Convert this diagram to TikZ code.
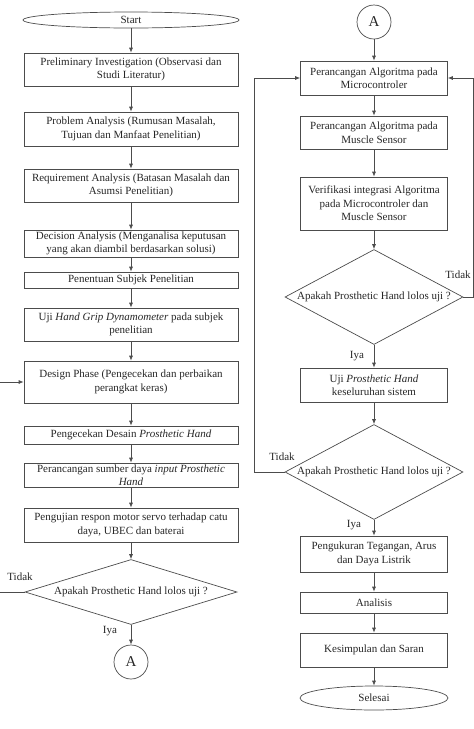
\documentclass[tikz,border=0pt]{standalone}
\usepackage{fontspec}
\setmainfont{Liberation Serif}
\usetikzlibrary{shapes.geometric,arrows.meta}
\begin{document}
\begin{tikzpicture}[x=1pt,y=-1pt,
  every node/.style={font=\fontsize{11}{13.5}\selectfont, text=black!85},
  line/.style={draw=black!70, line width=0.7pt},
  arr/.style={line, -{Latex[length=5pt,width=4pt]}},
  lbox/.style={line, rectangle, minimum width=214pt, align=center, inner sep=0pt},
  rbox/.style={line, rectangle, minimum width=147pt, align=center, inner sep=0pt},
  dec/.style={line, diamond, aspect=2, inner sep=0pt},
  term/.style={line, ellipse, inner sep=0pt},
  conn/.style={line, circle, minimum size=34pt, inner sep=0pt, font=\fontsize{15}{15}\selectfont},
  lab/.style={inner sep=0pt}
]
\useasboundingbox (0,0) rectangle (474,729);
% left column
\node[term, minimum width=216pt, minimum height=16pt] (start) at (131,20) {Start};
\node[lbox, minimum height=33pt] (b1) at (131,69.5) {Preliminary Investigation (Observasi dan\\ Studi Literatur)};
\node[lbox, minimum height=34pt] (b2) at (131,129) {Problem Analysis (Rumusan Masalah,\\ Tujuan dan Manfaat Penelitian)};
\node[lbox, minimum height=33pt] (b3) at (131,185.5) {Requirement Analysis (Batasan Masalah dan\\ Asumsi Penelitian)};
\node[lbox, minimum height=27pt] (b4) at (131,243.5) {Decision Analysis (Menganalisa keputusan\\ yang akan diambil berdasarkan solusi)};
\node[lbox, minimum height=16pt] (b5) at (131,280) {Penentuan Subjek Penelitian};
\node[lbox, minimum height=33pt] (b6) at (131,324.5) {Uji \textit{Hand Grip Dynamometer} pada subjek\\ penelitian};
\node[lbox, minimum height=42pt] (b7) at (131,382) {Design Phase (Pengecekan dan perbaikan\\ perangkat keras)};
\node[lbox, minimum height=18pt] (b8) at (131,435) {Pengecekan Desain \textit{Prosthetic Hand}};
\node[lbox, minimum height=24pt] (b9) at (131,475) {Perancangan sumber daya \textit{input Prosthetic}\\ \textit{Hand}};
\node[lbox, minimum height=34pt] (b10) at (131,525) {Pengujian respon motor servo terhadap catu\\ daya, UBEC dan baterai};
\node[dec, minimum width=212pt, minimum height=65pt] (d1) at (131,592) {};
\node at (131,592) {Apakah Prosthetic Hand lolos uji ?};
\node[conn] (a1) at (131,662) {A};
\coordinate (lc1) at (-1,592);
\coordinate (lc2) at (-1,382);
\node[lab] (t1) at (20,577) {Tidak};
\node[lab] (i1) at (110,631) {Iya};

\draw[arr] (start) -- (b1);
\draw[arr] (b1) -- (b2);
\draw[arr] (b2) -- (b3);
\draw[arr] (b3) -- (b4);
\draw[arr] (b4) -- (b5);
\draw[arr] (b5) -- (b6);
\draw[arr] (b6) -- (b7);
\draw[arr] (b7) -- (b8);
\draw[arr] (b8) -- (b9);
\draw[arr] (b9) -- (b10);
\draw[arr] (b10) -- (d1);
\draw[arr] (d1) -- (a1);
\draw[arr] (d1.west) -- (lc1) -- (lc2) -- (b7.west);

% right column
\node[conn] (a2) at (374,22) {A};
\node[rbox, minimum height=34pt] (r1) at (374,78) {Perancangan Algoritma pada\\ Microcontroler};
\node[rbox, minimum height=33pt] (r2) at (374,132.5) {Perancangan Algoritma pada\\ Muscle Sensor};
\node[rbox, minimum height=53pt] (r3) at (374,203.5) {Verifikasi integrasi Algoritma\\ pada Microcontroler dan\\ Muscle Sensor};
\node[dec, minimum width=178pt, minimum height=95pt] (d2) at (374,297) {};
\node at (374,297) {Apakah Prosthetic Hand lolos uji ?};
\node[rbox, minimum height=34pt] (r4) at (374,385) {Uji \textit{Prosthetic Hand}\\ keseluruhan sistem};
\node[dec, minimum width=178pt, minimum height=95pt] (d3) at (374,472) {};
\node at (374,472) {Apakah Prosthetic Hand lolos uji ?};
\node[rbox, minimum height=36pt] (r5) at (374,554) {Pengukuran Tegangan, Arus\\ dan Daya Listrik};
\node[rbox, minimum height=21pt] (r6) at (374,602.5) {Analisis};
\node[rbox, minimum height=34pt] (r7) at (374,650) {Kesimpulan dan Saran};
\node[term, minimum width=148pt, minimum height=24pt] (sel) at (374,698) {Selesai};
\coordinate (rc1) at (473,297);
\coordinate (rc2) at (473,78);
\coordinate (lr1) at (254,472);
\coordinate (lr2) at (254,78);
\node[lab] (t2) at (458,275) {Tidak};
\node[lab] (t3) at (282,457) {Tidak};
\node[lab] (i2) at (357,356) {Iya};
\node[lab] (i3) at (354,525) {Iya};

\draw[arr] (a2) -- (r1);
\draw[arr] (r1) -- (r2);
\draw[arr] (r2) -- (r3);
\draw[arr] (r3) -- (d2);
\draw[arr] (d2) -- (r4);
\draw[arr] (r4) -- (d3);
\draw[arr] (d3) -- (r5);
\draw[arr] (r5) -- (r6);
\draw[arr] (r6) -- (r7);
\draw[arr] (r7) -- (sel);
\draw[arr] (d2.east) -- (rc1) -- (rc2) -- (r1.east);
\draw[arr] (d3.west) -- (lr1) -- (lr2) -- (r1.west);
\end{tikzpicture}
\end{document}
